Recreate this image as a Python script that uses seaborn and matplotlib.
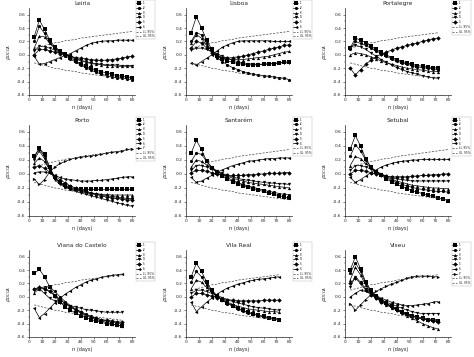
import numpy as np
import pandas as pd
import matplotlib
matplotlib.use("Agg")
import matplotlib.pyplot as plt
import seaborn as sns

sns.set_style("ticks")
plt.rcParams['font.family'] = ['DejaVu Sans']

n80 = list(range(4, 81, 4))
n72 = list(range(4, 73, 4))

ul_band = [0.10, 0.12, 0.14, 0.16, 0.18, 0.19, 0.21, 0.22, 0.23, 0.25, 0.26, 0.27, 0.28, 0.29, 0.30, 0.31, 0.32, 0.33, 0.34, 0.35]
ll_band = [-0.12, -0.14, -0.16, -0.18, -0.20, -0.21, -0.23, -0.24, -0.25, -0.27, -0.28, -0.29, -0.30, -0.31, -0.32, -0.33, -0.34, -0.35, -0.36, -0.37]

leiria = [
    [0.27, 0.52, 0.38, 0.22, 0.12, 0.06, 0.01, -0.04, -0.09, -0.13, -0.17, -0.20, -0.23, -0.25, -0.27, -0.29, -0.31, -0.32, -0.33, -0.34],
    [0.20, 0.43, 0.32, 0.19, 0.10, 0.04, -0.01, -0.06, -0.11, -0.15, -0.19, -0.23, -0.26, -0.29, -0.31, -0.33, -0.34, -0.35, -0.36, -0.37],
    [0.10, 0.28, 0.27, 0.17, 0.10, 0.05, 0.01, -0.03, -0.06, -0.09, -0.11, -0.13, -0.14, -0.15, -0.16, -0.16, -0.17, -0.17, -0.17, -0.17],
    [0.05, 0.13, 0.12, 0.10, 0.07, 0.04, 0.01, -0.02, -0.05, -0.08, -0.10, -0.12, -0.13, -0.14, -0.15, -0.15, -0.15, -0.16, -0.16, -0.16],
    [0.00, 0.08, 0.08, 0.06, 0.04, 0.02, 0.00, -0.02, -0.04, -0.05, -0.06, -0.07, -0.08, -0.08, -0.08, -0.07, -0.06, -0.05, -0.03, -0.02],
    [-0.02, -0.14, -0.13, -0.10, -0.07, -0.04, -0.01, 0.02, 0.06, 0.10, 0.14, 0.17, 0.19, 0.20, 0.21, 0.21, 0.22, 0.22, 0.22, 0.22],
]
lisboa = [
    [0.33, 0.57, 0.40, 0.22, 0.08, -0.02, -0.06, -0.09, -0.11, -0.13, -0.14, -0.15, -0.15, -0.15, -0.14, -0.14, -0.13, -0.12, -0.11, -0.10],
    [0.20, 0.33, 0.30, 0.17, 0.05, -0.04, -0.10, -0.15, -0.19, -0.22, -0.25, -0.27, -0.29, -0.30, -0.31, -0.32, -0.33, -0.34, -0.35, -0.37],
    [0.18, 0.30, 0.25, 0.14, 0.06, 0.00, -0.04, -0.06, -0.07, -0.07, -0.07, -0.06, -0.05, -0.04, -0.03, -0.02, 0.00, 0.02, 0.04, 0.05],
    [0.07, 0.10, 0.10, 0.08, 0.05, 0.02, -0.02, -0.05, -0.08, -0.10, -0.12, -0.13, -0.14, -0.14, -0.14, -0.13, -0.13, -0.12, -0.12, -0.12],
    [0.10, 0.20, 0.18, 0.10, 0.03, -0.02, -0.04, -0.05, -0.04, -0.03, -0.02, 0.00, 0.02, 0.04, 0.06, 0.08, 0.10, 0.12, 0.14, 0.15],
    [-0.12, -0.15, -0.10, -0.05, 0.00, 0.06, 0.11, 0.15, 0.18, 0.20, 0.21, 0.21, 0.21, 0.21, 0.21, 0.21, 0.20, 0.20, 0.20, 0.20],
]
portalegre = [
    [0.10, 0.25, 0.22, 0.18, 0.13, 0.08, 0.04, 0.00, -0.04, -0.07, -0.10, -0.12, -0.14, -0.16, -0.17, -0.18, -0.19, -0.20],
    [0.08, 0.20, 0.17, 0.14, 0.10, 0.06, 0.02, -0.02, -0.06, -0.09, -0.12, -0.14, -0.16, -0.18, -0.19, -0.20, -0.21, -0.22],
    [0.00, 0.03, 0.02, 0.00, -0.03, -0.06, -0.09, -0.12, -0.14, -0.16, -0.18, -0.20, -0.21, -0.22, -0.23, -0.24, -0.25, -0.25],
    [0.12, 0.14, 0.12, 0.08, 0.03, -0.02, -0.07, -0.11, -0.15, -0.19, -0.22, -0.25, -0.27, -0.29, -0.31, -0.33, -0.34, -0.35],
    [-0.20, -0.30, -0.22, -0.14, -0.08, -0.03, 0.01, 0.04, 0.07, 0.10, 0.12, 0.14, 0.16, 0.18, 0.20, 0.22, 0.24, 0.25],
]
porto = [
    [0.25, 0.37, 0.28, 0.10, -0.05, -0.12, -0.16, -0.19, -0.21, -0.22, -0.22, -0.22, -0.22, -0.22, -0.22, -0.22, -0.22, -0.22, -0.22, -0.22],
    [0.24, 0.36, 0.25, 0.08, -0.06, -0.13, -0.18, -0.21, -0.23, -0.25, -0.27, -0.28, -0.29, -0.30, -0.31, -0.32, -0.33, -0.34, -0.35, -0.35],
    [0.15, 0.23, 0.18, 0.06, -0.05, -0.12, -0.17, -0.20, -0.22, -0.24, -0.26, -0.27, -0.28, -0.29, -0.29, -0.30, -0.30, -0.30, -0.30, -0.30],
    [0.20, 0.33, 0.22, 0.05, -0.08, -0.15, -0.19, -0.22, -0.25, -0.27, -0.29, -0.31, -0.33, -0.35, -0.37, -0.39, -0.41, -0.43, -0.45, -0.46],
    [0.10, 0.12, 0.08, 0.03, -0.03, -0.08, -0.13, -0.17, -0.20, -0.23, -0.25, -0.27, -0.29, -0.31, -0.33, -0.34, -0.35, -0.36, -0.37, -0.37],
    [0.02, 0.03, 0.03, 0.02, -0.02, -0.05, -0.07, -0.08, -0.09, -0.10, -0.10, -0.10, -0.09, -0.09, -0.08, -0.07, -0.06, -0.05, -0.04, -0.04],
    [-0.07, -0.15, -0.08, 0.03, 0.10, 0.15, 0.18, 0.21, 0.23, 0.24, 0.25, 0.26, 0.27, 0.28, 0.30, 0.31, 0.32, 0.33, 0.35, 0.36],
]
santarem = [
    [0.30, 0.48, 0.35, 0.18, 0.08, 0.02, -0.03, -0.07, -0.11, -0.14, -0.17, -0.19, -0.21, -0.23, -0.25, -0.27, -0.29, -0.31, -0.33, -0.35],
    [0.18, 0.30, 0.28, 0.18, 0.10, 0.04, -0.01, -0.05, -0.09, -0.12, -0.15, -0.17, -0.19, -0.21, -0.23, -0.25, -0.26, -0.28, -0.29, -0.30],
    [0.10, 0.20, 0.18, 0.13, 0.08, 0.04, 0.00, -0.03, -0.06, -0.08, -0.10, -0.12, -0.13, -0.14, -0.15, -0.16, -0.17, -0.18, -0.19, -0.20],
    [0.05, 0.12, 0.12, 0.10, 0.07, 0.04, 0.01, -0.02, -0.04, -0.06, -0.08, -0.09, -0.10, -0.11, -0.12, -0.13, -0.13, -0.14, -0.14, -0.15],
    [0.02, 0.05, 0.05, 0.04, 0.02, 0.00, -0.01, -0.02, -0.02, -0.02, -0.02, -0.01, -0.01, 0.00, 0.00, 0.01, 0.01, 0.01, 0.02, 0.02],
    [-0.05, -0.12, -0.10, -0.06, -0.02, 0.02, 0.06, 0.09, 0.12, 0.14, 0.16, 0.18, 0.19, 0.20, 0.21, 0.22, 0.22, 0.23, 0.23, 0.23],
]
setubal = [
    [0.35, 0.55, 0.40, 0.22, 0.10, 0.03, -0.02, -0.07, -0.11, -0.15, -0.18, -0.21, -0.24, -0.26, -0.28, -0.30, -0.32, -0.34, -0.36, -0.38],
    [0.25, 0.42, 0.33, 0.20, 0.10, 0.04, -0.01, -0.05, -0.09, -0.12, -0.15, -0.17, -0.19, -0.21, -0.22, -0.23, -0.24, -0.25, -0.25, -0.26],
    [0.12, 0.25, 0.22, 0.15, 0.09, 0.04, 0.00, -0.04, -0.07, -0.10, -0.12, -0.14, -0.16, -0.17, -0.18, -0.19, -0.20, -0.20, -0.21, -0.21],
    [0.05, 0.12, 0.12, 0.10, 0.07, 0.03, 0.00, -0.03, -0.05, -0.07, -0.08, -0.09, -0.10, -0.10, -0.10, -0.10, -0.10, -0.10, -0.10, -0.10],
    [0.00, 0.05, 0.05, 0.04, 0.02, 0.00, -0.02, -0.03, -0.04, -0.04, -0.04, -0.04, -0.03, -0.03, -0.02, -0.02, -0.01, -0.01, 0.00, 0.00],
    [-0.05, -0.12, -0.08, -0.03, 0.02, 0.06, 0.10, 0.13, 0.15, 0.17, 0.18, 0.19, 0.20, 0.20, 0.21, 0.21, 0.21, 0.21, 0.21, 0.21],
]
viana = [
    [0.35, 0.41, 0.30, 0.15, 0.02, -0.08, -0.15, -0.20, -0.24, -0.28, -0.31, -0.34, -0.36, -0.38, -0.40, -0.41, -0.42, -0.43],
    [0.11, 0.13, 0.15, 0.15, 0.08, 0.00, -0.07, -0.13, -0.18, -0.22, -0.26, -0.29, -0.32, -0.34, -0.36, -0.38, -0.39, -0.40],
    [0.06, 0.12, 0.12, 0.08, 0.02, -0.04, -0.10, -0.15, -0.20, -0.24, -0.28, -0.31, -0.34, -0.36, -0.38, -0.40, -0.42, -0.44],
    [0.10, 0.12, 0.05, -0.02, -0.06, -0.09, -0.11, -0.13, -0.15, -0.17, -0.19, -0.20, -0.21, -0.22, -0.23, -0.23, -0.23, -0.23],
    [0.12, 0.14, 0.12, 0.08, 0.02, -0.04, -0.10, -0.15, -0.19, -0.23, -0.27, -0.30, -0.32, -0.34, -0.35, -0.36, -0.37, -0.38],
    [-0.17, -0.31, -0.25, -0.17, -0.09, -0.02, 0.04, 0.09, 0.14, 0.18, 0.22, 0.25, 0.27, 0.29, 0.31, 0.32, 0.33, 0.34],
]
vila_real = [
    [0.30, 0.50, 0.38, 0.22, 0.10, 0.02, -0.04, -0.09, -0.13, -0.17, -0.20, -0.23, -0.25, -0.27, -0.29, -0.31, -0.33, -0.35],
    [0.22, 0.38, 0.30, 0.18, 0.08, 0.01, -0.05, -0.10, -0.14, -0.18, -0.21, -0.24, -0.26, -0.28, -0.30, -0.31, -0.32, -0.33],
    [0.12, 0.25, 0.22, 0.14, 0.07, 0.01, -0.04, -0.08, -0.11, -0.14, -0.16, -0.18, -0.19, -0.20, -0.21, -0.22, -0.22, -0.23],
    [0.05, 0.10, 0.10, 0.08, 0.05, 0.02, -0.01, -0.04, -0.07, -0.09, -0.11, -0.13, -0.15, -0.16, -0.17, -0.18, -0.19, -0.20],
    [0.00, 0.05, 0.05, 0.03, 0.01, -0.01, -0.03, -0.04, -0.05, -0.06, -0.06, -0.06, -0.06, -0.06, -0.05, -0.05, -0.05, -0.05],
    [-0.08, -0.22, -0.15, -0.08, -0.02, 0.04, 0.09, 0.13, 0.16, 0.19, 0.21, 0.23, 0.25, 0.26, 0.27, 0.28, 0.29, 0.30],
]
viseu = [
    [0.40, 0.60, 0.42, 0.22, 0.10, 0.02, -0.04, -0.09, -0.14, -0.18, -0.22, -0.25, -0.28, -0.30, -0.32, -0.34, -0.35, -0.36],
    [0.35, 0.51, 0.38, 0.20, 0.08, 0.01, -0.05, -0.10, -0.15, -0.19, -0.23, -0.26, -0.29, -0.31, -0.32, -0.33, -0.34, -0.34],
    [0.25, 0.44, 0.33, 0.17, 0.06, -0.01, -0.07, -0.12, -0.16, -0.20, -0.24, -0.28, -0.32, -0.36, -0.40, -0.43, -0.46, -0.48],
    [0.15, 0.30, 0.22, 0.12, 0.05, 0.00, -0.04, -0.08, -0.11, -0.14, -0.17, -0.20, -0.22, -0.24, -0.25, -0.25, -0.25, -0.25],
    [0.20, 0.28, 0.20, 0.10, 0.03, -0.02, -0.07, -0.11, -0.15, -0.19, -0.23, -0.26, -0.29, -0.31, -0.33, -0.35, -0.36, -0.37],
    [0.00, 0.05, 0.10, 0.08, 0.05, 0.02, -0.02, -0.05, -0.08, -0.10, -0.12, -0.13, -0.13, -0.12, -0.11, -0.10, -0.08, -0.07],
    [-0.10, -0.20, -0.12, -0.04, 0.03, 0.08, 0.12, 0.16, 0.19, 0.22, 0.25, 0.28, 0.30, 0.31, 0.31, 0.31, 0.30, 0.30],
]

titles = ["Leiria", "Lisboa", "Portalegre", "Porto", "Santarém", "Setubal",
          "Viana do Castelo", "Vila Real", "Viseu"]
panels = [leiria, lisboa, portalegre, porto, santarem, setubal, viana, vila_real, viseu]
series_labels = ["l1", "l2", "l3", "l4", "l5", "l6", "l7"]
ci_labels = ["LL 95%", "UL 95%"]
y_ticks = [-0.6, -0.4, -0.2, 0.0, 0.2, 0.4, 0.6]
x_ticks = [0, 10, 20, 30, 40, 50, 60, 70, 80]

markers = ['s', 'o', '^', 'v', 'D', '<', '>']

W, H = 474, 357
fig = plt.figure(figsize=(W / 100, H / 100), dpi=100)

col_left = [29, 186, 345]
ax_w = 106
rows = [(8, 95), (125, 216), (250, 337)]

for i, (title, data) in enumerate(zip(titles, panels)):
    r, c = divmod(i, 3)
    top, bot = rows[r]
    left = col_left[c]
    ax = fig.add_axes([left / W, 1 - bot / H, ax_w / W, (bot - top) / H])
    for k, vals in enumerate(data):
        nn = n80[:len(vals)]
        sns.lineplot(x=nn, y=vals, ax=ax, color='black', lw=0.5,
                     marker=markers[k], markersize=2.3, markeredgewidth=0,
                     label=series_labels[k])
    nlen = len(data[0])
    nn = n80[:nlen]
    sns.lineplot(x=nn, y=ll_band[:nlen], ax=ax, color='#444444', lw=0.5,
                 linestyle=(0, (3, 2)), label=ci_labels[0])
    sns.lineplot(x=nn, y=ul_band[:nlen], ax=ax, color='#444444', lw=0.5,
                 linestyle=(0, (3, 2)), label=ci_labels[1])
    ax.set_xlim(0, 82)
    ax.set_ylim(-0.6, 0.7)
    ax.set_xticks(x_ticks)
    ax.set_yticks(y_ticks)
    ax.set_xticklabels([str(t) for t in x_ticks])
    ax.set_yticklabels([f"{t:.1f}" for t in y_ticks])
    ax.set_xticks(np.arange(5, 82, 10), minor=True)
    ax.set_yticks(np.arange(-0.5, 0.7, 0.2), minor=True)
    ax.tick_params(axis='both', which='major', labelsize=3.2, length=1.5, width=0.4, pad=1)
    ax.tick_params(axis='both', which='minor', length=0.9, width=0.3)
    for s in ['top', 'right']:
        ax.spines[s].set_visible(False)
    for s in ['left', 'bottom']:
        ax.spines[s].set_linewidth(0.5)
    ax.set_title(title, fontsize=4.2, pad=2)
    ax.set_xlabel("n (days)", fontsize=3.6, labelpad=2)
    ax.set_ylabel(r"$\rho_{DCCA}$", fontsize=4.0, labelpad=3)
    leg = ax.legend(loc='upper left', bbox_to_anchor=(1.005, 1.09), fontsize=2.2,
                    frameon=True, fancybox=False, edgecolor='#999999',
                    handlelength=1.6, handletextpad=0.4, borderpad=0.3,
                    labelspacing=0.25, borderaxespad=0)
    leg.get_frame().set_linewidth(0.3)

fig.savefig("out.png", dpi=100)
